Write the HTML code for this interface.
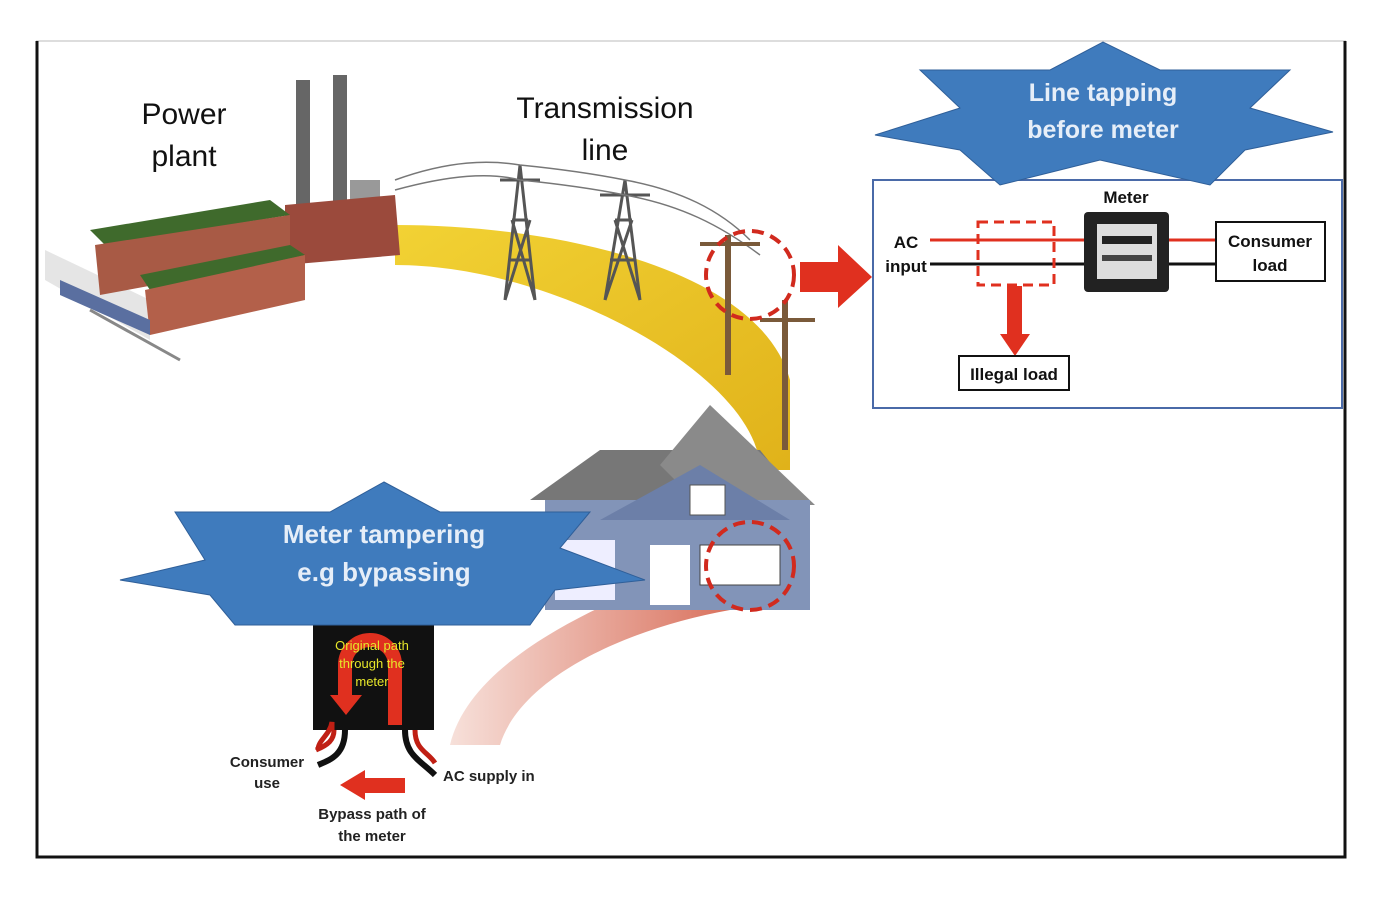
<!DOCTYPE html>
<html><head><meta charset="utf-8"><style>
html,body{margin:0;padding:0;background:#fff;}
svg{display:block;font-family:"Liberation Sans",sans-serif;}
</style></head><body>
<svg width="1386" height="901" viewBox="0 0 1386 901">
<defs>
<linearGradient id="pk" x1="0" y1="0" x2="1" y2="0"><stop offset="0" stop-color="#f6ddd6"/><stop offset="1" stop-color="#d5624c"/></linearGradient>
<linearGradient id="yl" x1="0" y1="0" x2="1" y2="1"><stop offset="0" stop-color="#f2d234"/><stop offset="1" stop-color="#e0b21a"/></linearGradient>
</defs>
<rect x="0" y="0" width="1386" height="901" fill="#fff"/>
<!-- frame -->
<line x1="36" y1="41" x2="1346" y2="41" stroke="#bbb" stroke-width="1"/>
<path d="M37 41 V857 H1345 V41" fill="none" stroke="#111" stroke-width="3"/>

<!-- yellow arc -->
<path d="M395 225 C560 225 760 270 790 380 L790 470 L760 470 C760 380 560 265 395 265 Z" fill="url(#yl)"/>
<!-- pink fade -->
<path d="M720 560 C600 600 470 660 450 745 L500 745 C520 680 620 630 730 610 Z" fill="url(#pk)" opacity="0.9"/>

<!-- power plant -->
<polygon points="45,280 150,340 150,300 45,250" fill="#ccc" opacity="0.5"/>
<rect x="296" y="80" width="14" height="130" fill="#666"/><rect x="333" y="75" width="14" height="135" fill="#666"/>
<rect x="350" y="180" width="30" height="40" fill="#999"/>
<polygon points="285,205 395,195 400,255 285,265" fill="#9b4a3c"/>
<polygon points="90,230 270,200 290,215 105,245" fill="#3f6a2c"/>
<polygon points="95,245 290,215 290,260 100,295" fill="#a85a45"/>
<polygon points="140,275 290,245 305,255 150,290" fill="#3f6a2c"/>
<polygon points="145,290 305,255 305,300 150,335" fill="#b3604a"/>
<polygon points="60,280 150,320 150,335 60,295" fill="#5a6fa0"/>
<line x1="90" y1="310" x2="180" y2="360" stroke="#888" stroke-width="3"/>

<!-- towers -->
<g stroke="#555" stroke-width="3" fill="none">
<path d="M505 300 L520 165 L535 300 M510 260 L530 260 M512 220 L528 220 M500 180 L540 180 M505 300 L530 220 M535 300 L512 220"/>
<path d="M605 300 L625 180 L640 300 M610 260 L635 260 M615 220 L632 220 M600 195 L650 195 M605 300 L632 220 M640 300 L615 220"/>
</g>
<g stroke="#777" stroke-width="1.5" fill="none">
<path d="M395 180 C450 160 490 160 520 165 C570 170 600 175 625 180 C680 190 720 210 750 240"/>
<path d="M395 190 C450 175 490 172 520 180 C570 185 600 190 625 195 C680 205 720 225 760 255"/>
</g>
<!-- poles -->
<rect x="725" y="235" width="6" height="140" fill="#7a5a3a"/>
<rect x="782" y="300" width="6" height="150" fill="#7a5a3a"/>
<rect x="700" y="242" width="60" height="4" fill="#7a5a3a"/>
<rect x="760" y="318" width="55" height="4" fill="#7a5a3a"/>

<!-- house -->
<polygon points="530,500 600,450 760,450 800,500" fill="#777"/>
<polygon points="660,465 710,405 815,505 700,505" fill="#8a8a8a"/>
<rect x="545" y="500" width="265" height="110" fill="#8294b8"/>
<polygon points="600,520 700,465 790,520" fill="#6c7fa8"/>
<rect x="690" y="485" width="35" height="30" fill="#fff" stroke="#555"/>
<rect x="555" y="540" width="60" height="60" fill="#eef"/>
<rect x="700" y="545" width="80" height="40" fill="#fff" stroke="#444"/>
<rect x="650" y="545" width="40" height="60" fill="#fff"/>

<!-- dashed circles -->
<circle cx="750" cy="275" r="44" fill="none" stroke="#d12a1e" stroke-width="4" stroke-dasharray="12 7"/>
<circle cx="750" cy="566" r="44" fill="none" stroke="#d12a1e" stroke-width="4" stroke-dasharray="12 7"/>
<circle cx="750" cy="566" r="8" fill="#fff"/>
<!-- big red arrow -->
<polygon points="800,262 838,262 838,245 872,277 838,308 838,292 800,292" fill="#e0301f"/>

<!-- labels -->
<text x="184" y="124" font-size="30" text-anchor="middle" fill="#111">Power</text>
<text x="184" y="166" font-size="30" text-anchor="middle" fill="#111">plant</text>
<text x="605" y="118" font-size="30" text-anchor="middle" fill="#111">Transmission</text>
<text x="605" y="160" font-size="30" text-anchor="middle" fill="#111">line</text>

<!-- right panel -->
<rect x="873" y="180" width="469" height="228" fill="#fff" stroke="#4a6aa8" stroke-width="2"/>
<polygon points="920,70 1050,70 1103,42 1160,70 1290,70 1250,108 1333,132 1245,150 1210,185 1100,160 1000,185 960,150 875,135 960,108" fill="#3f7bbd" stroke="#2f5f99" stroke-width="1"/>
<text x="1103" y="101" font-size="25" font-weight="bold" text-anchor="middle" fill="#e6eef8">Line tapping</text>
<text x="1103" y="138" font-size="25" font-weight="bold" text-anchor="middle" fill="#e6eef8">before meter</text>
<text x="1126" y="203" font-size="17" font-weight="bold" text-anchor="middle" fill="#111">Meter</text>
<line x1="930" y1="240" x2="1085" y2="240" stroke="#e0301f" stroke-width="3"/>
<line x1="930" y1="264" x2="1085" y2="264" stroke="#111" stroke-width="3"/>
<line x1="1168" y1="240" x2="1216" y2="240" stroke="#e0301f" stroke-width="3"/>
<line x1="1168" y1="264" x2="1216" y2="264" stroke="#111" stroke-width="3"/>
<text x="906" y="248" font-size="17" font-weight="bold" text-anchor="middle" fill="#111">AC</text>
<text x="906" y="272" font-size="17" font-weight="bold" text-anchor="middle" fill="#111">input</text>
<rect x="978" y="222" width="76" height="63" fill="none" stroke="#e0301f" stroke-width="3" stroke-dasharray="10 6"/>
<rect x="1084" y="212" width="85" height="80" rx="4" fill="#222"/>
<rect x="1097" y="224" width="60" height="55" fill="#ddd"/>
<rect x="1102" y="236" width="50" height="8" fill="#222"/>
<rect x="1102" y="255" width="50" height="6" fill="#444"/>
<rect x="1216" y="222" width="109" height="59" fill="#fff" stroke="#111" stroke-width="2"/>
<text x="1270" y="247" font-size="17" font-weight="bold" text-anchor="middle" fill="#111">Consumer</text>
<text x="1270" y="271" font-size="17" font-weight="bold" text-anchor="middle" fill="#111">load</text>
<rect x="1007" y="286" width="15" height="50" fill="#e0301f"/>
<polygon points="1000,334 1030,334 1015,356" fill="#e0301f"/>
<rect x="959" y="356" width="110" height="34" fill="#fff" stroke="#111" stroke-width="2"/>
<text x="1014" y="380" font-size="17" font-weight="bold" text-anchor="middle" fill="#111">Illegal load</text>

<!-- meter tampering -->
<rect x="313" y="620" width="121" height="110" fill="#111"/>
<path d="M318 750 C318 740 330 735 332 722 L332 730" fill="none" stroke="#c01f14" stroke-width="5"/>
<path d="M318 765 C330 760 345 755 345 730" fill="none" stroke="#111" stroke-width="6"/>
<path d="M316 750 C328 745 334 740 334 730" fill="none" stroke="#c01f14" stroke-width="5"/>
<path d="M405 730 C405 755 420 760 435 775" fill="none" stroke="#111" stroke-width="6"/>
<path d="M415 730 C415 750 428 752 435 763" fill="none" stroke="#c01f14" stroke-width="5"/>
<path d="M395 725 L395 665 A25 25 0 0 0 345 665 L345 700" fill="none" stroke="#e0301f" stroke-width="14"/>
<polygon points="330,695 362,695 346,715" fill="#e0301f"/>
<text x="372" y="650" font-size="13" text-anchor="middle" fill="#e6e62a">Original path</text>
<text x="372" y="668" font-size="13" text-anchor="middle" fill="#e6e62a">through the</text>
<text x="372" y="686" font-size="13" text-anchor="middle" fill="#e6e62a">meter</text>
<polygon points="405,778 365,778 365,770 340,785 365,800 365,793 405,793" fill="#e0301f"/>
<text x="267" y="767" font-size="15" font-weight="bold" text-anchor="middle" fill="#222">Consumer</text>
<text x="267" y="788" font-size="15" font-weight="bold" text-anchor="middle" fill="#222">use</text>
<text x="443" y="781" font-size="15" font-weight="bold" fill="#222">AC supply in</text>
<text x="372" y="819" font-size="15" font-weight="bold" text-anchor="middle" fill="#222">Bypass path of</text>
<text x="372" y="841" font-size="15" font-weight="bold" text-anchor="middle" fill="#222">the meter</text>

<polygon points="175,512 330,512 384,482 440,512 590,512 560,548 645,580 555,590 530,625 384,625 235,625 210,595 120,580 205,560" fill="#3f7bbd" stroke="#2f5f99" stroke-width="1"/>
<text x="384" y="543" font-size="26" font-weight="bold" text-anchor="middle" fill="#e6eef8">Meter tampering</text>
<text x="384" y="581" font-size="26" font-weight="bold" text-anchor="middle" fill="#e6eef8">e.g bypassing</text>
</svg>
</body></html>
